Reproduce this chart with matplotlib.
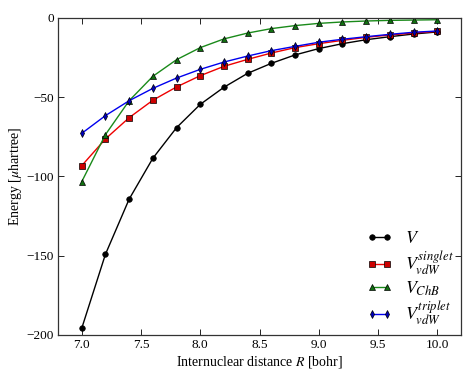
import matplotlib
matplotlib.use("Agg")
import matplotlib.pyplot as plt
import numpy as np

R = [7.0, 7.2, 7.4, 7.6, 7.8, 8.0, 8.2, 8.4, 8.6, 8.8, 9.0, 9.2, 9.4, 9.6, 9.8, 10.0]
V = [-195.8, -149.1, -114.3, -88.5, -69.2, -54.5, -43.7, -34.9, -28.6, -23.3,
     -19.3, -16.2, -13.7, -11.8, -10.1, -8.8]
V_singlet = [-93.2, -76.3, -62.9, -51.9, -43.5, -36.4, -30.5, -26.1, -22.1, -18.7,
             -16.2, -14.1, -12.2, -10.7, -9.5, -8.4]
V_ChB = [-103.3, -73.6, -52.2, -36.8, -26.3, -18.7, -13.2, -9.5, -6.7, -4.8,
         -3.4, -2.5, -1.9, -1.5, -1.3, -1.1]
V_triplet = [-72.8, -61.6, -52.2, -44.4, -37.9, -32.4, -27.8, -24.0, -20.6, -17.9,
             -15.3, -13.4, -11.8, -10.3, -9.0, -8.2]

plt.rcParams['font.family'] = ['Liberation Serif', 'DejaVu Serif']
plt.rcParams['mathtext.fontset'] = 'stix'

fig = plt.figure(figsize=(4.74, 3.78), dpi=100)
ax = fig.add_axes([0.1224, 0.1138, 0.8502, 0.8386])

kw = dict(markersize=4, markeredgecolor='k', markeredgewidth=0.5, linewidth=1.0)
ax.plot(R, V, '-o', color='k', label=r'$V$', **kw)
ax.plot(R, V_singlet, '-s', color='#ee0000', markerfacecolor='#cc0000', label=r'$V_{vdW}^{singlet}$', **kw)
ax.plot(R, V_ChB, '-^', color='#1a8a1a', markerfacecolor='#117011', label=r'$V_{ChB}$', **kw)
ax.plot(R, V_triplet, '-d', color='#0000ee', markerfacecolor='#0000bb', label=r'$V_{vdW}^{triplet}$', **kw)

ax.set_xlim(6.8, 10.2)
ax.set_ylim(-200, 0)
ax.set_xticks([7.0, 7.5, 8.0, 8.5, 9.0, 9.5, 10.0])
ax.set_yticks([0, -50, -100, -150, -200])
ax.tick_params(direction='in', top=True, right=True, labelsize=9.5, length=4, width=0.6, pad=3)
for s in ax.spines.values():
    s.set_linewidth(0.9)
    s.set_color('#333333')

ax.set_xlabel(r'Internuclear distance $R$ [bohr]', fontsize=10, labelpad=2)
ax.set_ylabel(r'Energy [$\mu$hartree]', fontsize=10, labelpad=2)

ax.legend(loc='lower right', bbox_to_anchor=(1.0, 0.0), frameon=False, numpoints=2,
          fontsize=13, handlelength=1.4, labelspacing=0.1, borderaxespad=0.0,
          handletextpad=0.7)

fig.savefig('out.png', dpi=100)
